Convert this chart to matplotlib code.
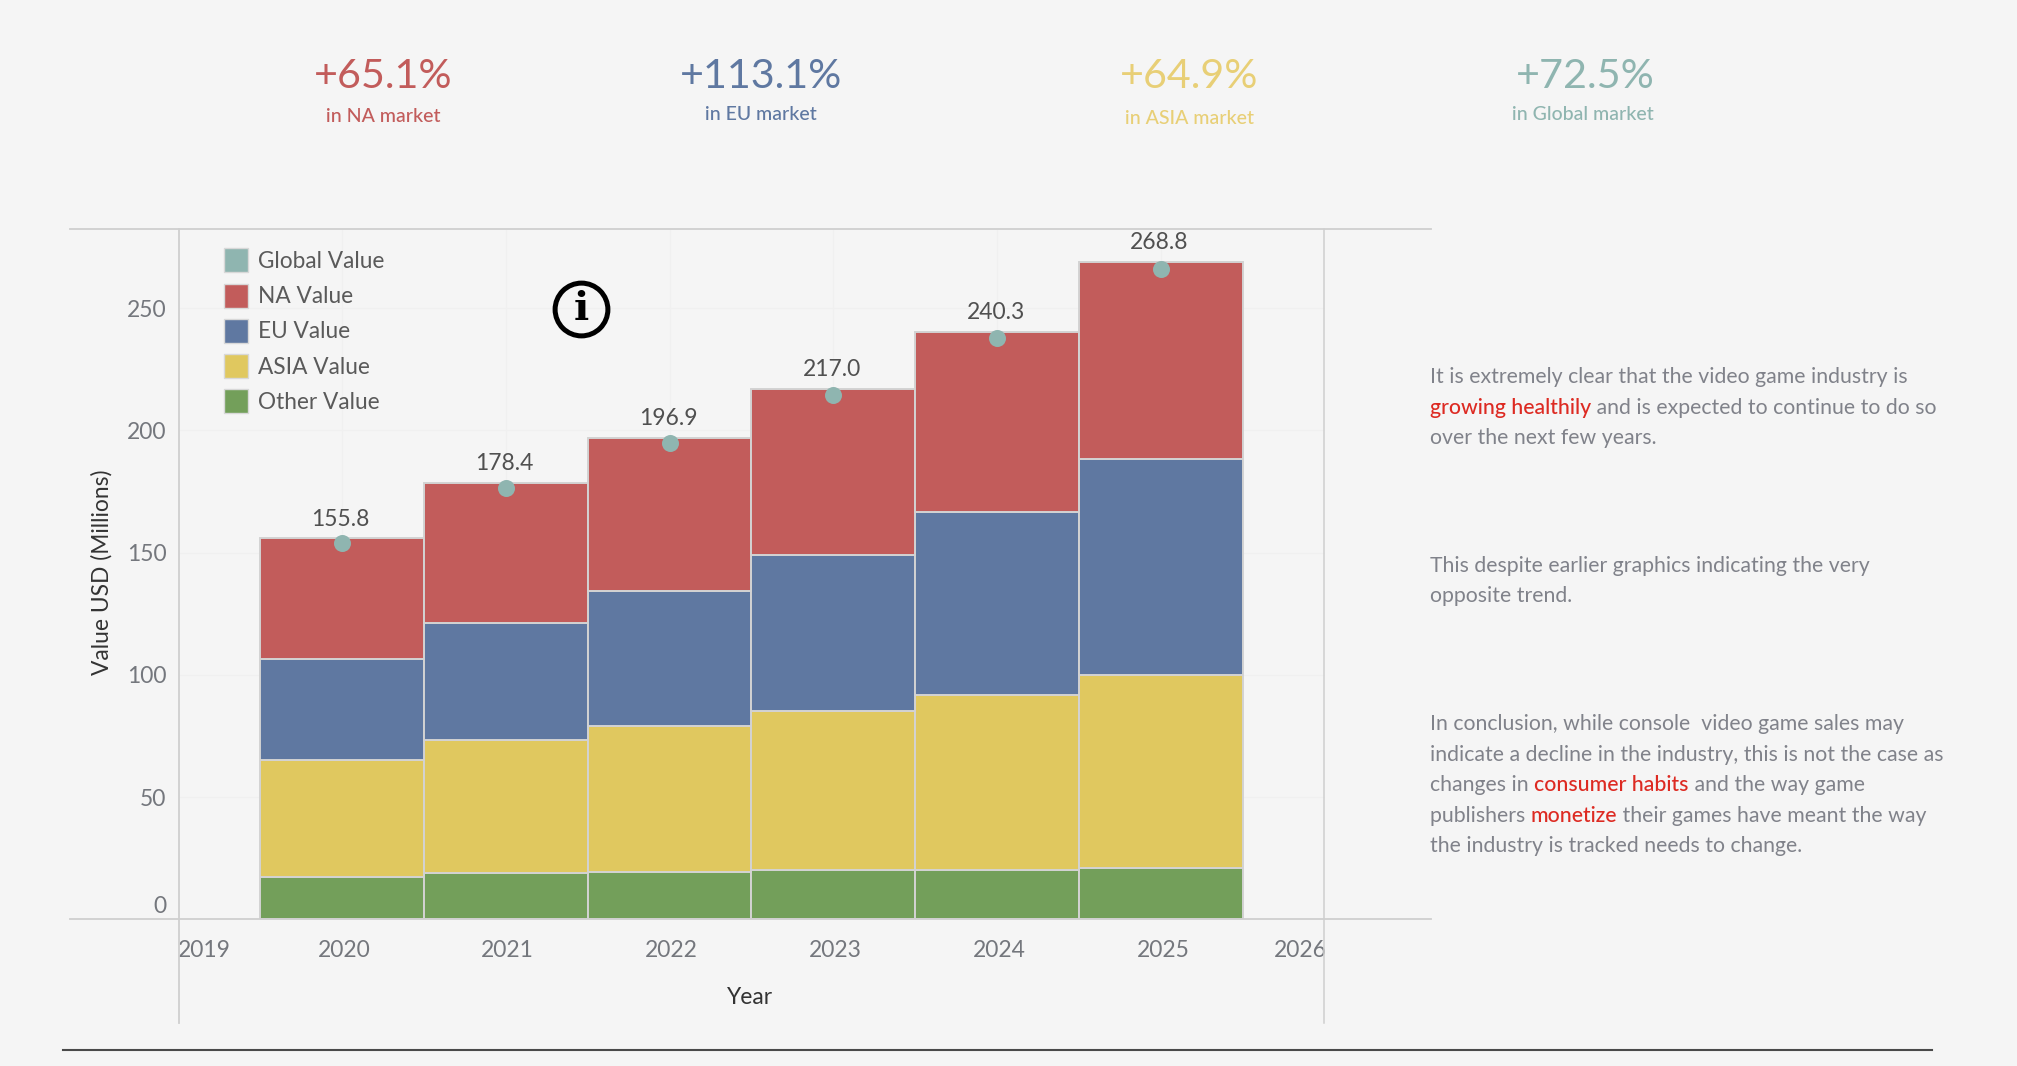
import matplotlib
matplotlib.use("Agg")
import matplotlib.pyplot as plt
from matplotlib.lines import Line2D
from matplotlib.patches import Patch
from matplotlib.transforms import ScaledTranslation

W, H = 2017, 1066
BG = "#f5f5f5"

years = [2020, 2021, 2022, 2023, 2024, 2025]
other = [17.3, 18.8, 19.5, 20.3, 20.3, 21.1]
asia = [47.9, 54.5, 59.7, 64.9, 71.6, 78.8]
eu = [41.3, 48.0, 55.2, 63.9, 74.8, 88.4]
na = [49.3, 57.1, 62.5, 67.9, 73.6, 80.5]
global_value = [154.0, 176.3, 194.7, 214.5, 237.6, 265.8]
totals = [155.8, 178.4, 196.9, 217.0, 240.3, 268.8]

kpi_values = ["+65.1%", "+113.1%", "+64.9%", "+72.5%"]
kpi_labels = ["in NA market", "in EU market", "in ASIA market", "in Global market"]

C_GLOBAL = "#8fb5b0"
C_NA = "#c25c5b"
C_EU = "#5f78a1"
C_ASIA = "#e0c85f"
C_OTHER = "#739f5a"
C_LINE = "#cfcfcf"
GREY = "#80828a"
RED = "#dd2a22"

plt.rcParams["font.family"] = ["Lato", "DejaVu Sans"]

fig = plt.figure(figsize=(W / 100, H / 100), dpi=100, facecolor=BG)


def fx(px):
    return px / W


def fy(py):
    return 1 - py / H


# plot area runs from the 2019 line to the 2026 line, baseline to top rule
left, right, top, base = 178.1, 1324.7, 229, 919.3
ax = fig.add_axes([fx(left), fy(base), fx(right - left), (base - top) / H], facecolor=BG)
ax.set_xlim(2019, 2026)
ax.set_ylim(0, (base - top) / 2.445)
for s in ax.spines.values():
    s.set_visible(False)

ax.set_axisbelow(True)
ax.grid(True, color="#f0f0f0", lw=1)

bottom = [0] * len(years)
for vals, col in [(other, C_OTHER), (asia, C_ASIA), (eu, C_EU), (na, C_NA)]:
    ax.bar(years, vals, width=1, bottom=bottom, color=col, edgecolor="#d3d3d3", linewidth=1.4)
    bottom = [b + v for b, v in zip(bottom, vals)]

ax.scatter(years, global_value, s=150, color=C_GLOBAL, linewidths=0, zorder=4)
for yr, total in zip(years, totals):
    ax.annotate(f"{total:.1f}", (yr, total), xytext=(-1, 6.3), textcoords="offset points",
                ha="center", va="bottom", fontsize=16.5, color="#505050")

ax.set_xticks([2019] + years + [2026])
ax.set_xticklabels(["2019"] + [str(y) for y in years] + ["2026"])
ax.set_yticks([0, 50, 100, 150, 200, 250])
ax.tick_params(axis="both", length=0, labelsize=16.5, labelcolor="#74777d")
ax.tick_params(axis="x", pad=15)
ax.tick_params(axis="y", pad=8.5)
xlabels = ax.get_xticklabels()
xlabels[0].set_ha("left")
xlabels[-1].set_ha("right")
shift = ScaledTranslation(1.5 / 72, 0, fig.dpi_scale_trans)
for lab in xlabels[1:-1]:
    lab.set_transform(lab.get_transform() + shift)
xlabels[-1].set_transform(xlabels[-1].get_transform() + shift)
ylab0 = ax.get_yticklabels()[0]
ylab0.set_va("bottom")
ylab0.set_transform(ylab0.get_transform() + ScaledTranslation(0, 1.5 / 72, fig.dpi_scale_trans))

fig.text(fx(102), fy(572), "Value USD (Millions)", rotation=90, ha="center", va="center",
         fontsize=16.4, color="#333333")
fig.text(fx(750), fy(998), "Year", ha="center", va="center", fontsize=16.4, color="#333333")

# frame rules reach past the plot area
for xs, ys, col, lw in [
    ((70, 1431), (229, 229), C_LINE, 1.3),
    ((70, 1431), (919.3, 919.3), C_LINE, 1.3),
    ((178.7, 178.7), (229, 1023), C_LINE, 1.3),
    ((1324, 1324), (229, 1023), C_LINE, 1.1),
    ((63, 1932), (1049.7, 1049.7), "#4a4a4a", 1.5),
]:
    fig.add_artist(Line2D([fx(x) for x in xs], [fy(y) for y in ys], color=col, lw=lw))

handles = [Patch(facecolor=c, edgecolor="#d8d8d8", label=l) for c, l in [
    (C_GLOBAL, "Global Value"), (C_NA, "NA Value"), (C_EU, "EU Value"),
    (C_ASIA, "ASIA Value"), (C_OTHER, "Other Value")]]
leg = fig.legend(handles=handles, loc="upper left", bbox_to_anchor=(fx(223.8), fy(248.3)),
                 frameon=False, fontsize=16.3, borderpad=0, borderaxespad=0,
                 handlelength=1.06, handleheight=1.25, handletextpad=0.46, labelspacing=0.5,
                 labelcolor="#5a5a5a")

# info icon
fig.add_artist(Line2D([fx(581)], [fy(309)], marker="o", ms=38, mfc="none", mec="black", mew=3.6, ls=""))
fig.text(fx(581), fy(309), "i", family="DejaVu Serif", fontweight="bold", fontsize=29,
         ha="center", va="center", color="black")

# KPI row
kpi_x = [383.6, 761, 1189, 1585]
kpi_sub_x = [383.6, 761, 1189, 1583]
kpi_sub_y = [116, 115, 118, 115]
kpi_cols = [C_NA, C_EU, "#e8cf76", C_GLOBAL]
for x, sx, sy, val, lab, col in zip(kpi_x, kpi_sub_x, kpi_sub_y, kpi_values, kpi_labels, kpi_cols):
    fig.text(fx(x), fy(76), val, ha="center", va="center", fontsize=29.7, color=col)
    fig.text(fx(sx), fy(sy), lab, ha="center", va="center", fontsize=14, color=col, fontweight="medium")

# commentary, red runs get measured so they sit inline
notes = [
    (375, [("It is extremely clear that the video game industry is", GREY)]),
    (405.5, [("growing healthily", RED), (" and is expected to continue to do so", GREY)]),
    (436, [("over the next few years.", GREY)]),
    (564, [("This despite earlier graphics indicating the very", GREY)]),
    (594.5, [("opposite trend.", GREY)]),
    (722.5, [("In conclusion, while console  video game sales may", GREY)]),
    (753, [("indicate a decline in the industry, this is not the case as", GREY)]),
    (783, [("changes in ", GREY), ("consumer habits", RED), (" and the way game", GREY)]),
    (814, [("publishers ", GREY), ("monetize", RED), (" their games have meant the way", GREY)]),
    (844, [("the industry is tracked needs to change.", GREY)]),
]
NOTE_SIZE = 15.27
renderer = fig.canvas.get_renderer()


def text_width(s, **kw):
    t = fig.text(0, 0, s + "|", fontsize=NOTE_SIZE, **kw)
    w = t.get_window_extent(renderer).width
    t.set_text("|")
    w -= t.get_window_extent(renderer).width
    t.remove()
    return w


for y, runs in notes:
    x = 1430
    for s, col in runs:
        weight = "medium" if col == RED else "normal"
        fig.text(fx(x), fy(y), s, ha="left", va="center_baseline", fontsize=NOTE_SIZE, color=col, fontweight=weight)
        x += text_width(s, fontweight=weight)

fig.savefig("out.png", dpi=100, facecolor=BG)
